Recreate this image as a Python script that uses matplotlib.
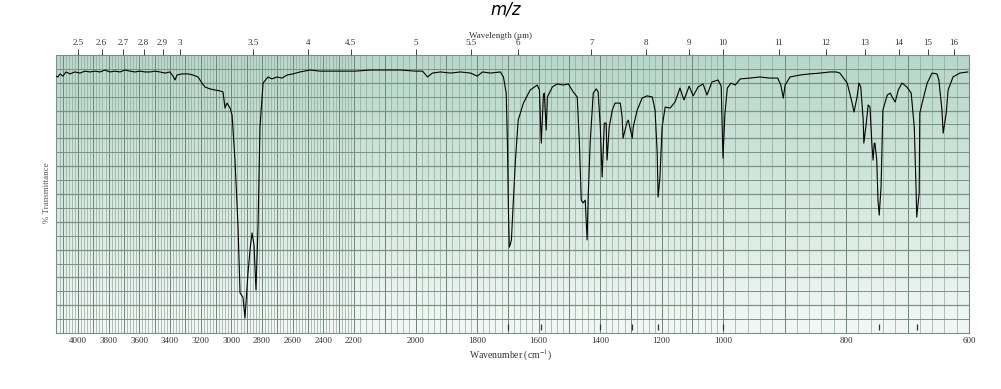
import numpy as np
import matplotlib.pyplot as plt

# IR trace: wavenumber (cm-1) and % transmittance
wavenumber = [4143, 4130, 4117, 4098, 4078, 4052, 4020, 3987, 3954, 3922, 3889, 3856,
              3824, 3791, 3759, 3726, 3693, 3661, 3628, 3596, 3563, 3530, 3498, 3465,
              3433, 3400, 3380, 3367, 3354, 3322, 3282, 3250, 3217, 3191, 3172, 3139,
              3106, 3074, 3054, 3041, 3028, 3008, 2995, 2976, 2956, 2943, 2924, 2911,
              2891, 2878, 2865, 2852, 2839, 2826, 2813, 2793, 2761, 2735, 2702, 2669,
              2637, 2598, 2552, 2487, 2421, 2337, 2258, 2195, 2146, 2097, 2049, 2000,
              1977, 1961, 1945, 1919, 1886, 1854, 1821, 1799, 1782, 1756, 1724, 1714,
              1705, 1701, 1698, 1695, 1692, 1688, 1685, 1675, 1666, 1649, 1627, 1604,
              1597, 1591, 1584, 1581, 1575, 1571, 1555, 1539, 1519, 1503, 1487, 1474,
              1467, 1461, 1455, 1448, 1442, 1438, 1432, 1422, 1412, 1406, 1399, 1393,
              1386, 1380, 1377, 1370, 1360, 1351, 1334, 1328, 1325, 1312, 1308, 1295,
              1292, 1279, 1263, 1247, 1230, 1221, 1214, 1211, 1205, 1198, 1188, 1172,
              1156, 1140, 1127, 1110, 1097, 1081, 1065, 1052, 1036, 1016, 1006, 1000,
              997, 993, 987, 980, 972, 956, 940, 924, 911, 906, 902, 899, 891, 875,
              859, 842, 826, 816, 810, 798, 790, 787, 782, 779, 776, 772, 771, 767,
              764, 761, 758, 756, 754, 753, 750, 748, 746, 743, 740, 733, 728, 724,
              720, 715, 709, 701, 694, 689, 686, 685, 681, 680, 675, 668, 660, 652,
              649, 644, 642, 637, 634, 626, 615, 602]
transmittance = [92.4, 92.1, 93.2, 92.4, 93.9, 93.2, 93.9, 93.5, 94.2, 93.9, 94.2, 93.9,
                 94.6, 93.9, 94.2, 93.9, 94.6, 94.2, 93.9, 94.2, 93.9, 93.9, 94.2, 93.9,
                 93.5, 93.9, 92.4, 91.0, 92.8, 93.2, 93.2, 92.8, 92.1, 89.9, 88.5, 87.8,
                 87.4, 87.1, 86.7, 80.9, 82.7, 80.9, 78.4, 62.2, 38.1, 14.4, 12.9, 5.4,
                 21.6, 29.9, 36.0, 31.7, 15.5, 38.1, 74.1, 89.9, 92.1, 91.4, 92.1, 91.7,
                 92.8, 93.2, 93.9, 94.6, 94.2, 94.2, 94.2, 94.2, 94.6, 94.6, 94.6, 94.2,
                 94.2, 92.1, 93.5, 93.9, 93.5, 93.9, 93.5, 92.4, 93.9, 93.5, 93.9, 92.1,
                 86.3, 68.3, 45.3, 30.9, 31.7, 33.5, 40.6, 62.2, 76.6, 82.7, 87.4, 89.2,
                 87.4, 68.3, 85.6, 86.3, 73.0, 84.9, 88.5, 89.6, 89.2, 89.6, 86.7, 84.9,
                 68.3, 47.8, 46.8, 47.8, 33.5, 50.4, 68.3, 86.3, 87.8, 86.7, 74.1, 56.1,
                 75.5, 75.5, 62.2, 74.1, 80.2, 82.7, 82.7, 77.7, 70.1, 75.9, 76.6, 70.1,
                 74.1, 80.2, 84.5, 85.3, 84.9, 80.2, 64.7, 48.9, 56.1, 74.1, 81.3, 80.9,
                 83.1, 88.1, 83.8, 88.8, 85.3, 88.5, 89.6, 85.6, 90.3, 91.0, 88.8, 62.9,
                 78.4, 88.1, 89.9, 89.2, 91.4, 91.7, 92.1, 91.7, 91.7, 89.2, 84.5, 89.2, 92.1, 92.8,
                 93.2, 93.5, 93.9, 93.9, 93.5, 89.9, 82.7, 79.5, 84.9, 89.9, 88.5, 76.6, 68.3, 75.5,
                 82.0, 81.3, 68.3, 62.2, 68.3, 68.3, 62.2, 47.8, 42.4, 52.5, 80.2, 85.6, 86.3, 84.5,
                 83.1, 87.4, 89.9, 88.5, 86.3, 74.1, 51.4, 41.7, 50.4, 79.1, 83.8, 89.9, 93.5, 93.2,
                 91.0, 80.2, 71.9, 79.1, 87.4, 92.1, 93.5, 93.9]

wavenumber_ticks = [4000, 3800, 3600, 3400, 3200, 3000, 2800, 2600, 2400, 2200,
                    2000, 1800, 1600, 1400, 1200, 1000, 800, 600]
wavelength_ticks = [2.5, 2.6, 2.7, 2.8, 2.9, 3, 3.5, 4, 4.5, 5, 5.5, 6, 7, 8, 9,
                    10, 11, 12, 13, 14, 15, 16]
peak_marks = [1698, 1591, 1399, 1295, 1211, 1000, 746, 685]

# chart paper has three linear pieces: 4000-2200 squeezed, 1000-600 stretched
wn_break = [600, 1000, 2200, 4143]
u_break = [0, 246, 615, 913]


def fwd(wn):
    return np.interp(wn, wn_break, u_break)


def inv(u):
    return np.interp(u, u_break, wn_break)


plt.rcParams['mathtext.fontset'] = 'stix'
serif = 'Liberation Serif'

fig = plt.figure(figsize=(10.01, 3.89), dpi=100)
ax = fig.add_axes([56 / 1001, 1 - 333 / 389, 913 / 1001, 278 / 389])

# greenish chart paper fading to white
top_c = np.array([182, 215, 201]) / 255
bot_c = np.array([242, 248, 245]) / 255
t = np.linspace(0, 1, 256)[:, None]
grad = (top_c * (1 - t) + bot_c * t)[:, None, :]
ax.imshow(grad, extent=[0, 1, 0, 1], transform=ax.transAxes, aspect='auto', zorder=0)

ax.set_xscale('function', functions=(fwd, inv))
ax.set_xlim(4143, 600)
ax.set_ylim(0, 100)

# grid
for w in range(4140, 599, -20):
    if w % 100 == 0:
        ax.axvline(w, color='#6f857b', lw=0.7, zorder=1)
    else:
        ax.axvline(w, color='#93a89f', lw=0.5, zorder=1)
for p in range(5, 100, 5):
    ax.axhline(p, color='#7a8f86', lw=0.7 if p % 10 else 0.9, zorder=1)

ax.plot(wavenumber, transmittance, color='black', lw=0.8, zorder=3)
ax.vlines(peak_marks, 1.2, 3.2, color='#333333', lw=0.9, zorder=3)

ax.set_xticks(wavenumber_ticks)
ax.set_xticklabels([str(w) for w in wavenumber_ticks], family=serif, fontsize=6.5, color='#333333')
ax.tick_params(axis='x', length=0, pad=3)
ax.set_yticks([])
for s in ax.spines.values():
    s.set_color('#7a8f86')
    s.set_linewidth(0.8)

ax2 = ax.twiny()
ax2.set_xscale('function', functions=(fwd, inv))
ax2.set_xlim(4143, 600)
ax2.set_xticks([10000 / l for l in wavelength_ticks])
ax2.set_xticklabels([f'{l:g}' for l in wavelength_ticks], family=serif, fontsize=6.5, color='#333333')
ax2.tick_params(axis='x', length=4, width=0.7, color='#444444', pad=1.5)
ax2.set_xticks([], minor=True)
for s in ax2.spines.values():
    s.set_visible(False)

fig.text(0.5, 1 - 36 / 389, 'Wavelength (\u00b5m)', family=serif, fontsize=6.5,
         ha='center', va='center', color='#333333')
fig.text(0.51, 1 - 355 / 389, 'Wavenumber (cm$^{-1}$)', family=serif, fontsize=7,
         ha='center', va='center', color='#333333')
fig.text(47 / 1001, 1 - 193 / 389, '% Transmittance', family=serif, fontsize=6.5,
         rotation=90, ha='center', va='center', color='#555555')
fig.text(506 / 1001, 1 - 15 / 389, 'm/z', fontsize=12, style='italic',
         ha='center', va='baseline')

fig.savefig('out.png', dpi=100)
